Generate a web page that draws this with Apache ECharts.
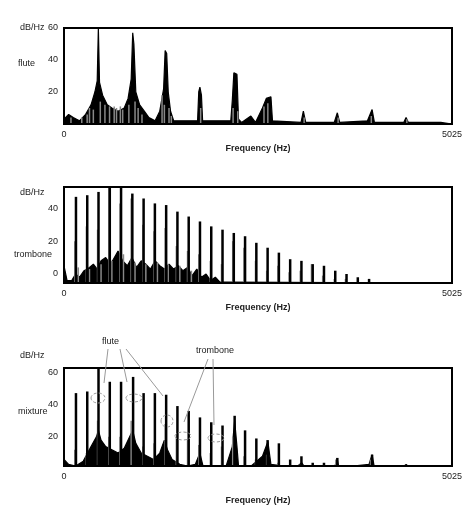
<!DOCTYPE html>
<html><head><meta charset="utf-8">
<script src="https://cdn.jsdelivr.net/npm/echarts@6/dist/echarts.min.js"></script>
<style>html,body{margin:0;padding:0;background:#fff}#c{width:474px;height:516px}</style>
</head><body><div id="c"></div>
<script>
// ---- data (Hz, dB) ----
const xTicks = [0, 5025];
const fluteFloor = [[0,3],[60,6],[120,4],[200,2],[280,6],[350,12],[400,20],[430,27],[445,60],[460,26],[500,18],[560,12],[620,10],[700,8],[780,10],[830,16],[870,28],[890,57],[905,50],[930,20],[980,12],[1040,8],[1100,4],[1180,2],[1240,8],[1290,22],[1310,46],[1330,44],[1350,20],[1380,8],[1420,2],[1730,2],[1745,20],[1760,23],[1780,18],[1795,2],[2160,2],[2180,15],[2200,32],[2240,31],[2260,3],[2300,1],[2420,5],[2480,1],[2570,10],[2620,16],[2680,17],[2700,2],[3070,1],[3100,8],[3130,1],[3500,1],[3540,7],[3570,1],[3930,2],[3990,9],[4020,1],[4400,1],[4430,4],[4460,1],[4850,1],[4860,2],[4880,1],[5025,0]];
const fluteGray = [[90,4],[230,4],[300,6],[330,10],[380,9],[470,14],[530,12],[590,11],[650,11],[680,10],[730,11],[760,9],[840,12],[920,14],[960,10],[1010,6],[1270,18],[1300,12],[1360,10],[1390,5],[1770,10],[2190,10],[2250,8],[2590,11],[2640,13],[3110,4],[3550,4],[3980,5],[4440,3]];
const tromPeaks = [[155,47],[301,48],[447,50],[593,53],[739,53],[885,49],[1031,46],[1177,43],[1323,42],[1469,38],[1615,35],[1761,32],[1907,29],[2053,27],[2199,25],[2345,23],[2491,19],[2637,16],[2783,13],[2929,9],[3075,8],[3221,6],[3367,5],[3513,2],[3659,0],[3805,-2],[3951,-3]];
const tromGray = [[140,20],[185,4],[290,29],[330,3],[435,27],[480,6],[580,53],[620,8],[725,43],[770,12],[870,46],[920,7],[1020,30],[1060,6],[1165,26],[1210,7],[1310,28],[1350,6],[1455,17],[1500,5],[1600,14],[1650,2],[1745,12],[1895,8],[2040,6],[2185,20],[2330,16],[2480,8],[2625,2],[2770,5],[2915,1],[3060,2],[3205,6],[3350,-1],[3500,-3],[3645,-3]];
const tromFloor = [[0,5],[40,-4],[100,-4],[150,0],[200,-2],[260,2],[330,4],[380,6],[430,3],[480,8],[540,10],[600,6],[640,9],[700,14],[760,8],[820,5],[880,10],[940,4],[1000,8],[1060,6],[1120,3],[1180,8],[1240,5],[1300,3],[1360,6],[1420,3],[1480,5],[1540,2],[1600,4],[1660,-1],[1720,3],[1780,-2],[1840,0],[1900,-4],[1960,-2],[2020,-5],[2100,-5],[5025,-5.5]];
const mixPeaks = [[155,47],[301,48],[447,62],[593,54],[739,54],[895,57],[1031,47],[1177,47],[1323,46],[1469,39],[1615,36],[1761,32],[1907,29],[2053,27],[2210,33],[2345,24],[2491,19],[2637,18],[2783,16],[2929,6],[3075,8],[3221,4],[3367,4],[3540,7],[3990,9],[4430,3]];
const mixGray = [[140,12],[290,10],[435,30],[580,20],[725,20],[870,30],[1020,14],[1165,16],[1310,28],[1455,20],[1600,18],[1745,15],[1895,10],[2040,14],[2185,20],[2330,8],[2480,6],[2625,9],[2770,4],[3060,3],[3205,2],[3520,6],[3970,6]];
const mixFloor = [[0,6],[60,3],[150,2],[250,5],[350,14],[420,20],[445,24],[480,18],[540,14],[620,12],[700,10],[780,13],[850,20],[890,24],[930,16],[1000,10],[1080,8],[1160,6],[1240,10],[1300,18],[1340,12],[1400,6],[1500,3],[1600,2],[1700,3],[1760,10],[1800,2],[1900,1],[2100,2],[2180,14],[2210,30],[2240,14],[2260,2],[2400,1],[2570,8],[2640,17],[2680,3],[3000,1],[3080,4],[3120,1],[3500,1],[3540,6],[3560,1],[3950,3],[3990,9],[4020,1],[4420,1],[4430,3],[4450,1],[5025,1]];

const grids = [
  {left:64, top:28, width:388, height:96, min:0, max:60, ticks:[20,40,60], name:'flute', nameY:65, unitY:29, floor:fluteFloor, peaks:[], gray:fluteGray},
  {left:64, top:187, width:388, height:96, min:-5.5, max:53, ticks:[0,20,40], name:'trombone', nameY:256, unitY:194, floor:tromFloor, peaks:tromPeaks, gray:tromGray},
  {left:64, top:368, width:388, height:98, min:2, max:62.5, ticks:[20,40,60], name:'mixture', nameY:413, unitY:357, floor:mixFloor, peaks:mixPeaks, gray:mixGray}
];
const chart = echarts.init(document.getElementById('c'));
const F = 'Liberation Sans';
function stems(gi, data, color, w){
  const mn = grids[gi].min;
  return {type:'custom', xAxisIndex:gi, yAxisIndex:gi, data:data, z:3, clip:true,
    renderItem:(p, api)=>{
      const a = api.coord([api.value(0), api.value(1)]), b = api.coord([api.value(0), mn]);
      return {type:'rect', shape:{x:a[0]-w/2, y:a[1], width:w, height:b[1]-a[1]}, style:{fill:color}};
    }};
}
const series = [], xAxis = [], yAxis = [], grid = [], graphic = [];
grids.forEach((g, i)=>{
  grid.push({left:g.left, top:g.top, width:g.width, height:g.height, show:true, borderColor:'#000', borderWidth:2, backgroundColor:'transparent', z:10});
  xAxis.push({gridIndex:i, type:'value', min:0, max:5025, splitLine:{show:false}, axisLine:{show:false}, axisTick:{show:false},
    axisLabel:{customValues:xTicks, formatter:v=>String(v), fontFamily:F, fontSize:9, color:'#222', margin:6},
    name:'Frequency (Hz)', nameLocation:'middle', nameGap: i===2?30:20, nameTextStyle:{fontFamily:F, fontSize:9, fontWeight:'bold', color:'#222'}});
  yAxis.push({gridIndex:i, type:'value', min:g.min, max:g.max, splitLine:{show:false}, axisLine:{show:false}, axisTick:{show:false},
    axisLabel:{customValues:g.ticks, fontFamily:F, fontSize:9, color:'#222', margin:6}});
  series.push({type:'line', xAxisIndex:i, yAxisIndex:i, data:g.floor, symbol:'none', lineStyle:{color:'#000', width:1.2}, areaStyle:{color:'#000', opacity:1, origin:'start'}, z:2});
  series.push(stems(i, g.gray, '#888', 1.5));
  series.push(stems(i, g.peaks, '#000', 2.5));
  graphic.push({type:'text', left:20, top:g.unitY-6, style:{text:'dB/Hz', font:'9px '+F, fill:'#222'}});
  graphic.push({type:'text', left:i===1?14:18, top:g.nameY-6, style:{text:g.name, font:'9px '+F, fill:'#222'}});
});
// annotations on mixture panel
const ell = [[98,398,7,5],[134,398,8,4],[167,421,6,6],[183,436,8,4],[216,438,8,4]];
ell.forEach(e=>graphic.push({type:'ellipse', shape:{cx:e[0], cy:e[1], rx:e[2], ry:e[3]}, style:{fill:'none', stroke:'#999', lineWidth:1, lineDash:[3,2]}, z:20}));
const lines = [[108,349,104,383],[120,349,127,382],[126,349,163,396],[208,359,184,422],[213,359,214,425]];
lines.forEach(l=>graphic.push({type:'line', shape:{x1:l[0],y1:l[1],x2:l[2],y2:l[3]}, style:{stroke:'#999', lineWidth:1}, z:20}));
graphic.push({type:'text', left:102, top:337, style:{text:'flute', font:'9px '+F, fill:'#222'}});
graphic.push({type:'text', left:196, top:346, style:{text:'trombone', font:'9px '+F, fill:'#222'}});
chart.setOption({animation:false, grid, xAxis, yAxis, series, graphic});
</script></body></html>
